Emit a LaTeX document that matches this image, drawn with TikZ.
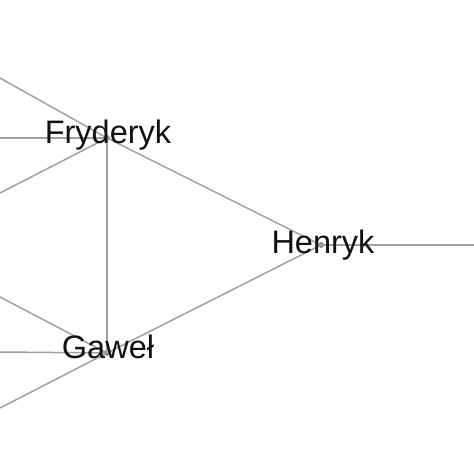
\documentclass[tikz,border=0pt]{standalone}
\usepackage{fontspec}
\setmainfont{Liberation Sans}
\usetikzlibrary{positioning}
\definecolor{EdgeGray}{HTML}{A0A0A0}
\definecolor{DotGray}{HTML}{8C8C8C}
\definecolor{LabelBlack}{HTML}{111111}
\tikzset{
  person/.style={circle, fill=DotGray, minimum size=6pt, inner sep=0pt},
  personlabel/.style={anchor=base, font=\fontsize{32.5}{38}\selectfont, text=LabelBlack, inner sep=0pt},
  tie/.style={draw=EdgeGray, line width=1.5pt}
}
\begin{document}
\begin{tikzpicture}[x=1pt, y=-1pt]
  \useasboundingbox (0,0) rectangle (474,474);
  % people
  \node[person] (fry) at (107,138) {};
  \node[person] (hen) at (321,245) {};
  \node[person] (gaw) at (107,353) {};
  % off-picture ends
  \coordinate (f1) at (0,78);
  \coordinate (f2) at (0,138);
  \coordinate (f3) at (0,193);
  \coordinate (g1) at (0,297);
  \coordinate (g2) at (0,352);
  \coordinate (g3) at (0,408);
  \coordinate (h1) at (474,245);
  % ties
  \foreach \e in {f1,f2,f3} \draw[tie] (\e) -- (fry.center);
  \foreach \e in {g1,g2,g3} \draw[tie] (\e) -- (gaw.center);
  \draw[tie] (fry.center) -- (hen.center);
  \draw[tie] (fry.center) -- (gaw.center);
  \draw[tie] (gaw.center) -- (hen.center);
  \draw[tie] (hen.center) -- (h1);
  % names
  \node[personlabel] (fryName) at (108,143) {Fryderyk};
  \node[personlabel] (henName) at (323,253) {Henryk};
  \node[personlabel] (gawName) at (108,358) {Gaweł};
\end{tikzpicture}
\end{document}
